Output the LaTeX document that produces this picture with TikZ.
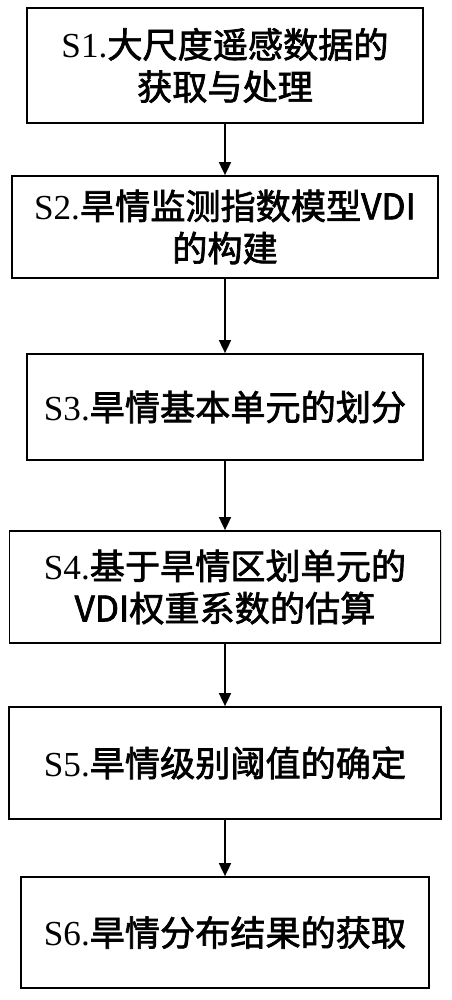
\documentclass[tikz,border=0pt]{standalone}
\usepackage{fontspec}
\setmainfont{Liberation Serif}
\newfontfamily\cjk[FakeBold=2]{Noto Sans CJK SC}
\usepackage{tikz}
\usetikzlibrary{arrows.meta, shadows}

\begin{document}
\begin{tikzpicture}[
  >={Triangle[length=2.6mm,width=2.4mm]},
  stepbox/.style={draw, line width=1pt, fill=white, align=center,
                  font=\fontsize{20}{24}\selectfont,
                  drop shadow={shadow xshift=0.8pt, shadow yshift=-0.8pt, fill=black!35}},
  arr/.style={->, line width=1pt},
]
\useasboundingbox (0,0) rectangle (9.04,-20);
% Steps, top to bottom
\node[stepbox, minimum width=7.92cm, minimum height=2.30cm] (s1) at (4.5,-1.31)
  {S1.{\cjk 大尺度遥感数据的}\\{\cjk 获取与处理}};
\node[stepbox, minimum width=8.52cm, minimum height=2.04cm] (s2) at (4.5,-4.54)
  {S2.{\cjk 旱情监测指数模型VDI}\\{\cjk 的构建}};
\node[stepbox, minimum width=7.92cm, minimum height=2.12cm] (s3) at (4.5,-8.14)
  {S3.{\cjk 旱情基本单元的划分}};
\node[stepbox, minimum width=8.62cm, minimum height=2.24cm] (s4) at (4.5,-11.74)
  {S4.{\cjk 基于旱情区划单元的}\\{\cjk VDI权重系数的估算}};
\node[stepbox, minimum width=8.64cm, minimum height=2.24cm] (s5) at (4.5,-15.26)
  {S5.{\cjk 旱情级别阈值的确定}};
\node[stepbox, minimum width=8.16cm, minimum height=2.22cm] (s6) at (4.5,-18.65)
  {S6.{\cjk 旱情分布结果的获取}};
% Arrows
\draw[arr] (s1) -- (s2);
\draw[arr] (s2) -- (s3);
\draw[arr] (s3) -- (s4);
\draw[arr] (s4) -- (s5);
\draw[arr] (s5) -- (s6);
\end{tikzpicture}
\end{document}
